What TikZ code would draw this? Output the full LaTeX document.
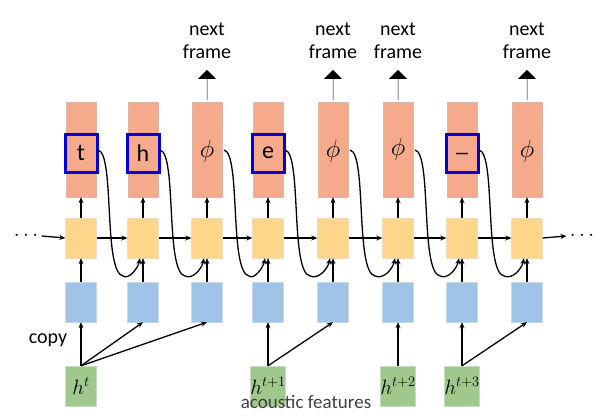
\documentclass[tikz,border=0pt]{standalone}
\usepackage{fontspec}
\setmainfont{Carlito}
\usetikzlibrary{arrows.meta,shapes.arrows}
\definecolor{org}{RGB}{246,170,140}
\definecolor{yel}{RGB}{253,214,140}
\definecolor{blu}{RGB}{160,195,232}
\definecolor{grn}{RGB}{160,200,140}
\newcommand{\fsz}[1]{\fontsize{#1}{#1}\selectfont}
\begin{document}
\begin{tikzpicture}[x=1pt,y=-1pt,
 ob/.style={fill=org,draw=org!80!black!60,minimum width=30pt,minimum height=95pt,inner sep=0},
 yb/.style={fill=yel,draw=yel!80!black!40,minimum width=31pt,minimum height=40pt,inner sep=0},
 bb/.style={fill=blu,draw=blu!80!black!40,minimum width=31pt,minimum height=40pt,inner sep=0},
 gb/.style={fill=grn,draw=grn!80!black!40,minimum width=31pt,minimum height=40pt,inner sep=0,font=\fsz{20}},
 sel/.style={draw=blue!85!black,line width=3pt,minimum width=32pt,minimum height=38pt,inner sep=0,font=\fsz{24}},
 lbl/.style={font=\fsz{24}},
 ar/.style={-{Stealth[length=6pt,width=5pt]},line width=1.3pt},
 nf/.style={single arrow,fill=black,draw=none,shape border rotate=90,minimum height=30pt,minimum width=18pt,single arrow head extend=7pt,single arrow head indent=0pt,inner sep=0pt},
 nft/.style={font=\fsz{20},align=center,inner sep=0},
 capt/.style={font=\fsz{19},inner sep=0}]
\useasboundingbox (0,0) rectangle (600,420);
\foreach \i/\x in {1/81,2/143,3/207,4/268,5/333,6/398,7/462,8/527}{
  \node[ob] (o\i) at (\x,149.5) {};
  \node[yb] (y\i) at (\x,238) {};
  \node[bb] (b\i) at (\x,302) {};
  \draw[ar] (y\i.north) -- (o\i.south);
  \draw[ar] (b\i.north) -- (y\i.south);
}
\node[sel] (s1) at (81,153) {t};
\node[sel] (s2) at (143,153) {h};
\node[lbl] (p3) at (207,151) {$\phi$};
\node[sel] (s4) at (268,153) {e};
\node[lbl] (p5) at (333,151) {$\phi$};
\node[lbl] (p6) at (398,149) {$\phi$};
\node[sel] (s7) at (462,153) {\_};
\node[lbl] (p8) at (527,151) {$\phi$};
\foreach \i/\x in {3/207,5/333,6/398,8/527}{
  \node[nf] (a\i) at (\x,85) {};
  \node[nft] (t\i) at (\x,41) {next\\[3pt]frame};
}
\foreach \a/\b in {1/2,2/3,3/4,4/5,5/6,6/7,7/8}{\draw[ar] (y\a.east) -- (y\b.west);}
\node[font=\fsz{20}] (dl) at (26,236) {$\cdots$};
\node[font=\fsz{20}] (dr) at (582,236) {$\cdots$};
\draw[ar] (dl.east) -- (y1.west);
\draw[ar] (y8.east) -- (dr.west);
\foreach \i/\x/\n/\xn in {1/81/2/143,2/143/3/207,3/207/4/268,4/268/5/333,5/333/6/398,6/398/7/462,7/462/8/527}{
  \coordinate (c\i) at (\x+17,150);
  \draw[line width=1.3pt,-{Stealth[length=6pt,width=5pt]}] (c\i) .. controls (\x+34,153) and (\x+22,272) .. (\x+42,276)
     .. controls (\xn-14,280) and (\xn-5,268) .. ([xshift=-3pt]y\n.south);
}
\node[gb] (g1) at (81,386) {$h^{t}$};
\node[gb] (g4) at (268,386) {$h^{t+1}$};
\node[gb] (g6) at (398,386) {$h^{t+2}$};
\node[gb] (g7) at (462,386) {$h^{t+3}$};
\foreach \g/\b in {1/1,1/2,1/3,4/4,4/5,6/6,7/7,7/8}{\draw[ar] (g\g.north) -- (b\b.south);}
\node[font=\fsz{20}] (cp) at (48,340) {copy};
\node[capt,text=black!75] (cap) at (306,402) {acoustic features};
\end{tikzpicture}
\end{document}
